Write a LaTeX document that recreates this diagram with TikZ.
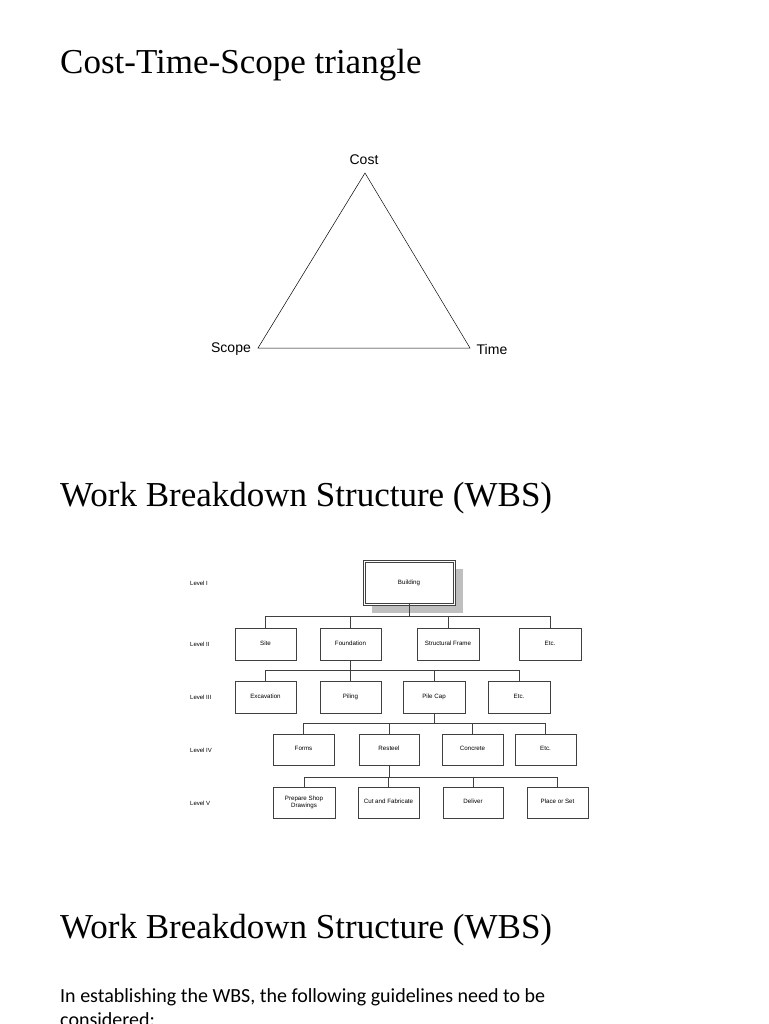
\documentclass[tikz,border=0pt]{standalone}
\usepackage{fontspec}
\setmainfont{Liberation Serif}
\newfontfamily\calfnt{Carlito}
\newfontfamily\arsfnt{Liberation Sans}
\begin{document}
\begin{tikzpicture}[x=1pt,y=-1pt,
  ttl/.style={anchor=west,font=\fontsize{35}{40}\selectfont,inner sep=0},
  lab/.style={font=\arsfnt\fontsize{14}{16}\selectfont,inner sep=0},
  lvl/.style={anchor=west,font=\arsfnt\fontsize{6}{7}\selectfont,inner sep=0},
  bx/.style={draw=black!75,line width=0.6pt,fill=white,font=\arsfnt\fontsize{6.2}{7}\selectfont,align=center,inner sep=0},
  ln/.style={draw=black!75,line width=0.6pt}]
\useasboundingbox (0,0) rectangle (768,1024);
\clip (0,0) rectangle (768,1024);
\node[ttl] (t1) at (60,65) {Cost-Time-Scope triangle};
\node[ttl] (t2) at (60,498) {Work Breakdown Structure (WBS)};
\node[ttl] (t3) at (60,930) {Work Breakdown Structure (WBS)};
\node[anchor=west,inner sep=0,font=\calfnt\fontsize{20}{24}\selectfont,align=left] (tx) at (60,1008) {In establishing the WBS, the following guidelines need to be\\considered:};
% triangle
\coordinate (A) at (365,173);
\coordinate (S) at (258,348);
\coordinate (T) at (470,348);
\draw[line width=0.5pt] (A) -- (S) -- (T) -- cycle;
\node[lab] (lc) at (364,160) {Cost};
\node[lab] (ls) at (231,349) {Scope};
\node[lab] (lt) at (492,349) {Time};
% WBS
\fill[black!25] (372,569) rectangle (463,613);
\draw[ln,fill=white] (363,560) rectangle (455,605);
\node[bx,minimum width=88pt,minimum height=41pt] (b) at (409,582.5) {Building};
\def\B#1#2#3#4#5#6{\node[bx,minimum width=#4pt-#3pt,minimum height=#6pt-#5pt] (#1) at ({(#3+#4)/2},{(#5+#6)/2}) {\strut#2};}
\B{site}{Site}{235}{296}{628}{660}
\B{fnd}{Foundation}{320}{381}{628}{660}
\B{sf}{Structural Frame}{417}{479}{628}{660}
\B{e2}{Etc.}{519}{581}{628}{660}
\B{exc}{Excavation}{235}{296}{681}{713}
\B{pil}{Piling}{320}{381}{681}{713}
\B{pc}{Pile Cap}{403}{465}{681}{713}
\B{e3}{Etc.}{488}{550}{681}{713}
\B{frm}{Forms}{273}{334}{734}{765}
\B{rst}{Resteel}{359}{419}{734}{765}
\B{con}{Concrete}{442}{503}{734}{765}
\B{e4}{Etc.}{515}{576}{734}{765}
\B{psd}{Prepare Shop\\Drawings}{273}{335}{787}{818}
\B{cut}{Cut and Fabricate}{358}{419}{787}{818}
\B{del}{Deliver}{443}{503}{787}{818}
\B{pos}{Place or Set}{527}{588}{787}{818}
\draw[ln] (b.south) -- ++(0,13) coordinate (j1);
\draw[ln] (site.north) |- (e2.north |- j1) -- (e2.north);
\draw[ln] (fnd.north) -- (fnd.north |- j1);
\draw[ln] (sf.north) -- (sf.north |- j1);
\draw[ln] (fnd.south) -- ++(0,10) coordinate (j2);
\draw[ln] (exc.north) |- (e3.north |- j2) -- (e3.north);
\draw[ln] (pil.north) -- (pil.north |- j2);
\draw[ln] (pc.north) -- (pc.north |- j2);
\draw[ln] (pc.south) -- ++(0,10) coordinate (j3);
\draw[ln] (frm.north) |- (e4.north |- j3) -- (e4.north);
\draw[ln] (rst.north) -- (rst.north |- j3);
\draw[ln] (con.north) -- (con.north |- j3);
\draw[ln] (rst.south) -- ++(0,12) coordinate (j4);
\draw[ln] (psd.north) |- (pos.north |- j4) -- (pos.north);
\draw[ln] (cut.north) -- (cut.north |- j4);
\draw[ln] (del.north) -- (del.north |- j4);
\node[lvl] (l1) at (190,583) {Level I};
\node[lvl] (l2) at (190,644) {Level II};
\node[lvl] (l3) at (190,697) {Level III};
\node[lvl] (l4) at (190,750) {Level IV};
\node[lvl] (l5) at (190,803) {Level V};
\end{tikzpicture}
\end{document}
